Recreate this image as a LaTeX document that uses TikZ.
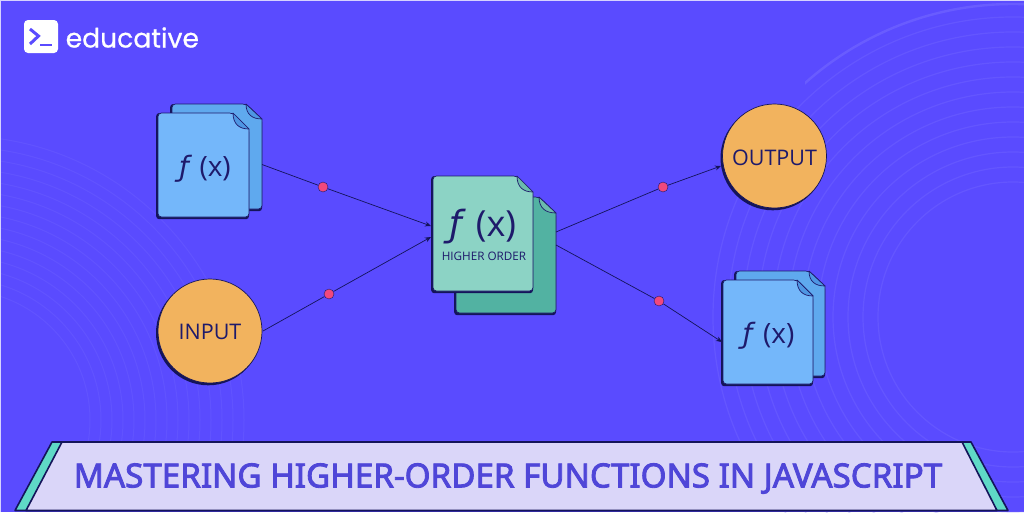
\documentclass[tikz,border=0pt]{standalone}
\usepackage{fontspec}
\setmainfont{Open Sans}
\newfontfamily\titlefont[FakeBold=2.6]{Noto Sans}
\newfontfamily\logofont[FakeBold=0.6]{Poppins}
\newfontfamily\ffont{DejaVu Sans}
\usetikzlibrary{arrows.meta}
\definecolor{bgblue}{HTML}{5A4BFF}
\definecolor{wave}{HTML}{7D72FF}
\definecolor{ink}{HTML}{1E1A6B}
\definecolor{navy}{HTML}{14145A}
\definecolor{docfront}{HTML}{74B7FA}
\definecolor{docback}{HTML}{5FA9EE}
\definecolor{docfold}{HTML}{4E96E3}
\definecolor{hoffront}{HTML}{8CD3C5}
\definecolor{hofback}{HTML}{52B2A2}
\definecolor{hoffold}{HTML}{6BBBAC}
\definecolor{orb}{HTML}{F2B35E}
\definecolor{pinkdot}{HTML}{F0487E}
\definecolor{bannerfill}{HTML}{DAD6F9}
\definecolor{bannerteal}{HTML}{5FD9C6}
\definecolor{titleblue}{HTML}{4F46D8}
% page: x0,y0,x1,y1,fold width,fold height,fill,fold fill
\newcommand{\pagesheet}[8]{%
  \fill[navy,rounded corners=3pt] (#1-1.8,#2) -- (#3-#5,#2) -- (#3,#2+#6) -- (#3,#4+2.2) -- (#1-1.8,#4+2.2) -- cycle;
  \draw[draw=ink,line width=.7pt,fill=#7,rounded corners=3.5pt] (#1,#2) -- (#3-#5,#2) [sharp corners] -- (#3,#2+#6) [rounded corners=3.5pt] -- (#3,#4) -- (#1,#4) -- cycle;
  \draw[draw=ink,line width=.7pt,fill=#8,line join=round] (#3-#5,#2) .. controls (#3-#5,#2+#6*.7) and (#3-#5*.6,#2+#6) .. (#3,#2+#6) -- cycle;
}
\newcommand{\funcf}{\textit{\ffont\itshape ƒ}}
\tikzset{
  conn/.style={draw=navy,line width=.7pt},
  arrowed/.style={conn,-{Stealth[length=6pt,width=5pt]}},
  dotnode/.style={circle,fill=pinkdot,draw=ink,line width=.4pt,inner sep=0pt,minimum size=10pt},
  orbnode/.style={circle,fill=orb,draw=navy,line width=.7pt,inner sep=0pt,minimum size=104pt,text=ink,font=\fontsize{21.5}{23}\selectfont},
  funclabel/.style={text=ink,font=\fontsize{28}{30}\selectfont,inner sep=0pt},
  waveright/.style={draw=wave,line width=1.2pt,opacity=.3},
  waveleft/.style={draw=wave,line width=1pt,opacity=.22},
}
\begin{document}
\begin{tikzpicture}[x=1pt,y=-1pt]
\useasboundingbox (0,0) rectangle (1024,512);
\fill[white!75!bgblue] (0,0) rectangle (1024,512);
\fill[bgblue] (1,1) rectangle (1024,512);
% background waves
\begin{scope}
\clip (1,1) rectangle (1024,512);
\foreach \r in {135,150,...,300}{
  \draw[waveright] (1013,317) circle (\r);
}
\begin{scope}
\clip (805,1) rectangle (1024,112);
\draw[wave,line width=2.4pt,opacity=.45] (1013,317) circle (313);
\end{scope}
\begin{scope}
\clip (1,1) rectangle (270,441);
\foreach \r in {130,141,...,285}{
  \draw[waveleft] (-40,420) circle (\r);
}
\end{scope}
\end{scope}
% logo
\fill[white,rounded corners=4pt] (24,20) rectangle (58,53);
\draw[bgblue,line width=3pt] (30,29) -- (38.5,36) -- (30,44);
\draw[bgblue,line width=2.6pt] (40,45) -- (52,45);
\node[text=white,anchor=west,inner sep=0pt,font=\logofont\fontsize{26.6}{28}\selectfont] (logo) at (65.5,37.5) {educative};
% doc 1
\pagesheet{172}{104}{262}{209}{16}{15}{docback}{docfold}
\pagesheet{158}{113}{249}{217}{16}{16}{docfront}{docfold}
\node[funclabel] (doc1) at (205,168.5) {\funcf{} (x)};
% doc 2
\pagesheet{736}{271}{825}{376}{16}{15}{docback}{docfold}
\pagesheet{723}{280}{813}{384}{16}{16}{docfront}{docfold}
\node[funclabel] (doc2) at (768.5,335.5) {\funcf{} (x)};
% higher order
\pagesheet{456}{197}{556}{313}{17}{16}{hofback}{hoffold}
\pagesheet{433}{176}{533}{291}{16}{16}{hoffront}{hoffold}
\node[text=ink,font=\fontsize{36}{38}\selectfont,inner sep=0pt] (hof) at (483,227) {\funcf{} (x)};
\node[text=ink,font=\fontsize{11.7}{13}\selectfont,inner sep=0pt] (hoflabel) at (484,256) {HIGHER ORDER};
% circles
\fill[navy] (208.3,333) circle (52.3);
\node[orbnode] (input) at (210,331) {\raisebox{-8.7pt}[0pt][0pt]{INPUT}};
\fill[navy] (772.8,158) circle (52.3);
\node[orbnode] (output) at (774.5,156) {\raisebox{-9.7pt}[0pt][0pt]{OUTPUT}};
% connector ends
\coordinate (doc1out) at (262,164.5);
\coordinate (inputout) at (263,331);
\coordinate (hofin1) at (431,226);
\coordinate (hofin2) at (431,237);
\coordinate (hofout1) at (556,232);
\coordinate (hofout2) at (556,245);
\coordinate (outputin) at (721,166);
\coordinate (doc2in) at (722,342);
% dots
\node[dotnode] (d1) at (323,187) {};
\node[dotnode] (d2) at (329,294) {};
\node[dotnode] (d3) at (663,187) {};
\node[dotnode] (d4) at (659,301) {};
% connectors
\draw[conn] (doc1out) -- (d1);
\draw[arrowed] (d1) -- (hofin1);
\draw[conn] (inputout) -- (d2);
\draw[arrowed] (d2) -- (hofin2);
\draw[conn] (hofout1) -- (d3);
\draw[arrowed] (d3) -- (outputin);
\draw[conn] (hofout2) -- (d4);
\draw[arrowed] (d4) -- (doc2in);
% banner
\draw[navy,line width=1.6pt,fill=bannerteal,line join=round] (15,510.5) -- (52,442) -- (971,442) -- (1008,510.5) -- cycle;
\draw[navy,line width=1.6pt,fill=bannerfill,line join=round] (26,510.5) -- (62,442) -- (962,442) -- (997,510.5) -- cycle;
\node[text=titleblue,font=\titlefont\fontsize{33.2}{35}\selectfont,inner sep=0pt] (title) at (508,478.5) {MASTERING HIGHER-ORDER FUNCTIONS IN JAVASCRIPT};
\end{tikzpicture}
\end{document}
